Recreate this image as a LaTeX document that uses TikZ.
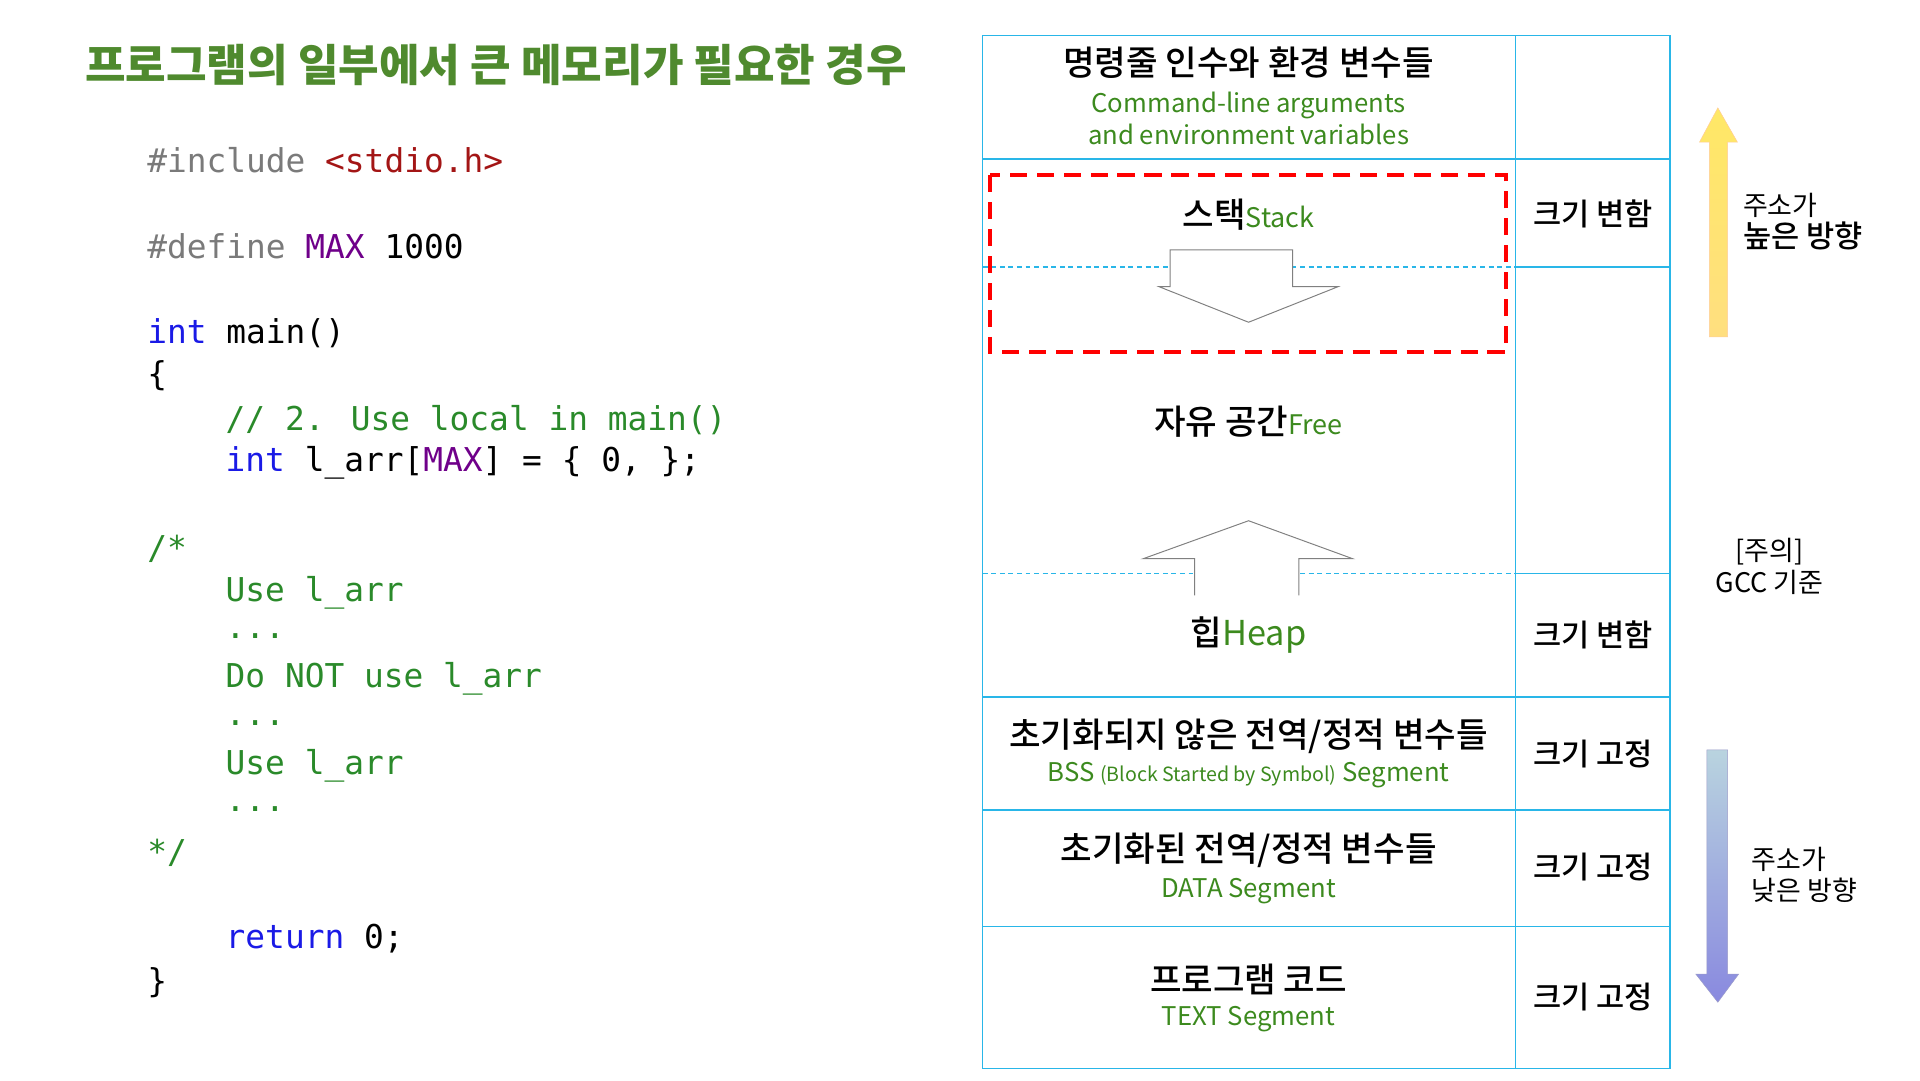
\documentclass[tikz,border=0pt]{standalone}
\usepackage{fontspec}
\setmainfont{Noto Sans CJK KR}
\newfontfamily\kr{Noto Sans CJK KR}
\newfontfamily\krm{Noto Sans CJK KR Medium}
\newfontfamily\code{DejaVu Sans Mono}
\usetikzlibrary{shadings}
\definecolor{tg}{HTML}{4F8A2E}
\definecolor{cy}{HTML}{29B6E8}
\definecolor{lab}{HTML}{3C8A1E}
\definecolor{kw}{HTML}{1A1AE6}
\definecolor{cm}{HTML}{2A8A2A}
\definecolor{pp}{HTML}{7A7A7A}
\definecolor{st}{HTML}{A31515}
\definecolor{mc}{HTML}{6F008A}
\begin{document}
\begin{tikzpicture}[x=1pt,y=-1pt,
  cl/.style={anchor=west,inner sep=0,font=\code\fontsize{26.8}{26.8}\selectfont},
  big/.style={font=\krm\fontsize{28}{32}\selectfont},
  sub/.style={font=\kr\fontsize{21}{26}\selectfont,text=lab},
  rt/.style={font=\krm\fontsize{25}{25}\selectfont},
  side/.style={font=\kr\fontsize{22}{26}\selectfont,align=left}]
\useasboundingbox (0,0) rectangle (1567,882);
\node[anchor=west,font=\kr\bfseries\fontsize{36}{36}\selectfont,text=tg] (title) at (66,53) {프로그램의 일부에서 큰 메모리가 필요한 경우};
\node[cl] (c1) at (120,131) {\textcolor{pp}{\#include} \textcolor{st}{<stdio.h>}};
\node[cl] (c2) at (120,201) {\textcolor{pp}{\#define} \textcolor{mc}{MAX} 1000};
\node[cl] (c3) at (120,272) {\textcolor{kw}{int} main()};
\node[cl] (c4) at (120,307) {\{};
\node[cl] (c5) at (184,343) {\textcolor{cm}{// 2. Use local in main()}};
\node[cl] (c6) at (184,378) {\textcolor{kw}{int} l\_arr[\textcolor{mc}{MAX}] = \{ 0, \};};
\node[cl,text=cm] (c7) at (120,448) {/*};
\node[cl,text=cm] (c8) at (184,484) {Use l\_arr};
\node[cl,text=cm] (c9) at (184,519) {...};
\node[cl,text=cm] (c10) at (184,554) {Do NOT use l\_arr};
\node[cl,text=cm] (c11) at (184,590) {...};
\node[cl,text=cm] (c12) at (184,625) {Use l\_arr};
\node[cl,text=cm] (c13) at (184,660) {...};
\node[cl,text=cm] (c14) at (120,696) {*/};
\node[cl] (c15) at (184,766) {\textcolor{kw}{return} 0;};
\node[cl] (c16) at (120,802) {\}};
% table
\draw[cy,line width=1.3pt] (802,29) rectangle (1363,872);
\draw[cy,line width=1.3pt] (1237,29) -- (1237,872);
\foreach \yy in {130,569,661,756} \draw[cy,line width=1.3pt] (802,\yy) -- (1363,\yy);
\foreach \yy in {218,468} {\draw[cy,line width=1.3pt] (1237,\yy) -- (1363,\yy);
  \draw[cy,line width=1pt,dash pattern=on 4pt off 3pt] (802,\yy) -- (1237,\yy);}
\draw[red,line width=3.5pt,dash pattern=on 14pt off 8pt] (808,143) rectangle (1229,287);
% hollow arrows
\draw[gray,line width=0.8pt,fill=white] (955,204) -- (1055,204) -- (1055,234) -- (1092,234) -- (1019,263) -- (946,234) -- (955,234) -- cycle;
\draw[gray,line width=0.8pt,fill=white] (975,486) -- (975,456) -- (933,456) -- (1019,425) -- (1104,456) -- (1060,456) -- (1060,486);
% texts in table
\node[big] (t1) at (1019,51) {명령줄 인수와 환경 변수들};
\node[sub,align=center] (t1b) at (1019,97) {Command-line arguments\\and environment variables};
\node[big] (t2) at (1019,175) {스택\textcolor{lab}{\kr\fontsize{22}{22}\selectfont Stack}};
\node[big] (t3) at (1019,344) {자유 공간\textcolor{lab}{\kr\fontsize{22}{22}\selectfont Free}};
\node[big] (t4) at (1019,518) {힙\textcolor{lab}{\kr Heap}};
\node[big] (t5) at (1019,601) {초기화되지 않은 전역/정적 변수들};
\node[sub] (t5b) at (1019,633) {BSS {\fontsize{16}{16}\selectfont(Block Started by Symbol)} Segment};
\node[big] (t6) at (1019,694) {초기화된 전역/정적 변수들};
\node[sub] (t6b) at (1019,727) {DATA Segment};
\node[big] (t7) at (1019,799) {프로그램 코드};
\node[sub] (t7b) at (1019,832) {TEXT Segment};
\node[rt] (r1) at (1300,175) {크기 변함};
\node[rt] (r2) at (1300,518) {크기 변함};
\node[rt] (r3) at (1300,615) {크기 고정};
\node[rt] (r4) at (1300,708) {크기 고정};
\node[rt] (r5) at (1300,814) {크기 고정};
% side arrows
\shade[top color=yellow!70!orange!60, bottom color=yellow!50!orange!50, draw=orange!40] (1395,275) -- (1395,116) -- (1387,116) -- (1402,88) -- (1418,116) -- (1410,116) -- (1410,275) -- cycle;
\shade[top color=blue!30!cyan!20!white!75!gray, bottom color=blue!45!white!75!gray, draw=blue!30!gray!60] (1393,612) -- (1410,612) -- (1410,795) -- (1419,795) -- (1402,818) -- (1384,795) -- (1393,795) -- cycle;
\node[side,anchor=west] (s1) at (1419,181) {주소가\\{\krm\fontsize{25}{28}\selectfont 높은 방향}};
\node[side,align=center] (s2) at (1444,462) {[주의]\\GCC 기준};
\node[side,anchor=west] (s3) at (1426,714) {주소가\\낮은 방향};
\end{tikzpicture}
\end{document}
